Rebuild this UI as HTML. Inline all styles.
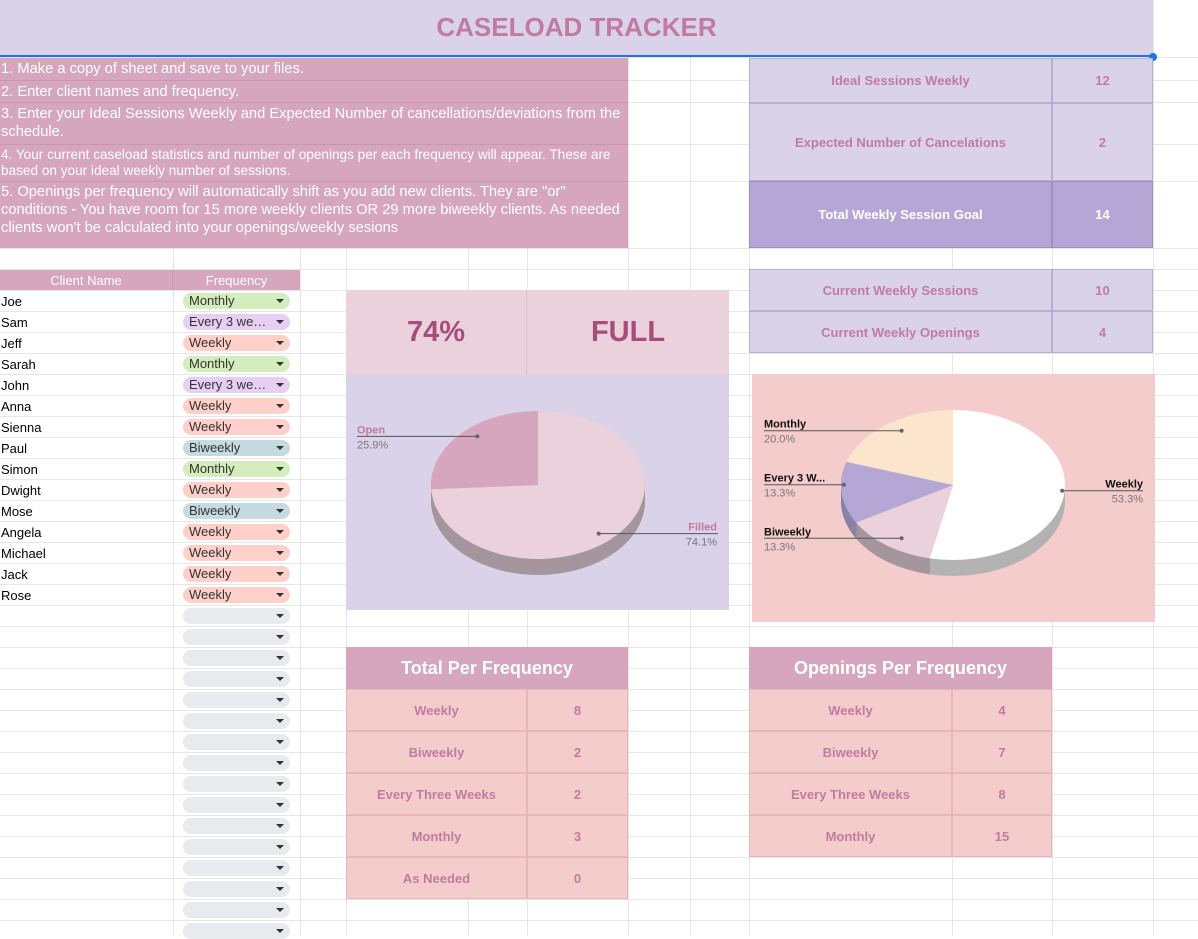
<!DOCTYPE html>
<html><head><meta charset="utf-8"><style>
*{box-sizing:border-box;margin:0;padding:0}
body{width:1198px;height:936px;overflow:hidden;background:#fff;font-family:"Liberation Sans",Arial,sans-serif;position:relative}
.a{position:absolute}
.c{position:absolute;display:flex;align-items:center;justify-content:center;text-align:center}
.b{font-weight:bold}
.chip{position:absolute;left:183px;width:107px;height:16px;border-radius:8px;font-size:13px;color:#333;padding-left:6px;line-height:16px;white-space:nowrap;overflow:hidden}
.chip:after{content:"";position:absolute;right:6px;top:6px;border-left:4px solid transparent;border-right:4px solid transparent;border-top:4px solid #333}
.chip span{display:inline-block;max-width:80px;overflow:hidden;text-overflow:ellipsis}
.nm{position:absolute;left:1px;font-size:13px;color:#000;line-height:21px}
</style></head><body>
<svg class="a" style="left:0;top:0" width="1198" height="936" id="grid"></svg>

<div class="c b" style="left:0;top:0;width:1153px;height:57px;background:#d9d2e9;color:#c27ba0;font-size:26px;border-bottom:2px solid #1a73e8">CASELOAD TRACKER</div>
<div class="a" style="left:1149px;top:53px;width:8px;height:8px;border-radius:4px;background:#1a73e8"></div>

<div class="a" style="left:0;top:58px;width:628px;height:190px;background:#d5a6bd;color:#fff;font-size:14.7px;line-height:18px">
<div class="a" style="left:1px;top:2px">1. Make a copy of sheet and save to your files.</div>
<div class="a" style="left:0;top:22px;width:628px;border-top:1px solid #c997b0"></div>
<div class="a" style="left:1px;top:25px">2. Enter client names and frequency.</div>
<div class="a" style="left:0;top:44px;width:628px;border-top:1px solid #c997b0"></div>
<div class="a" style="left:1px;top:47px;width:626px">3. Enter your Ideal Sessions Weekly and Expected Number of cancellations/deviations from the schedule.</div>
<div class="a" style="left:0;top:86px;width:628px;border-top:1px solid #c997b0"></div>
<div class="a" style="left:1px;top:89px;width:626px;font-size:13.6px;line-height:16px">4. Your current caseload statistics and number of openings per each frequency will appear. These are based on your ideal weekly number of sessions.</div>
<div class="a" style="left:0;top:123px;width:628px;border-top:1px solid #c997b0"></div>
<div class="a" style="left:1px;top:125px;width:626px">5. Openings per frequency will automatically shift as you add new clients. They are "or" conditions - You have room for 15 more weekly clients OR 29 more biweekly clients. As needed clients won't be calculated into your openings/weekly sesions</div>
</div>

<div>
<div class="c b" style="left:749px;top:58px;width:303px;height:45px;background:#d9d2e9;color:#c27ba0;font-size:13px;border:1px solid #b8aed0">Ideal Sessions Weekly</div>
<div class="c b" style="left:1052px;top:58px;width:101px;height:45px;background:#d9d2e9;color:#c27ba0;font-size:13px;border:1px solid #b8aed0">12</div>
<div class="c b" style="left:749px;top:103px;width:303px;height:78px;background:#d9d2e9;color:#c27ba0;font-size:13px;border:1px solid #b8aed0">Expected Number of Cancelations</div>
<div class="c b" style="left:1052px;top:103px;width:101px;height:78px;background:#d9d2e9;color:#c27ba0;font-size:13px;border:1px solid #b8aed0">2</div>
<div class="c b" style="left:749px;top:181px;width:303px;height:67px;background:#b4a7d6;color:#fff;font-size:13px;border:1px solid #9d90c0">Total Weekly Session Goal</div>
<div class="c b" style="left:1052px;top:181px;width:101px;height:67px;background:#b4a7d6;color:#fff;font-size:13px;border:1px solid #9d90c0">14</div>
<div class="c b" style="left:749px;top:269px;width:303px;height:42px;background:#d9d2e9;color:#c27ba0;font-size:13px;border:1px solid #b8aed0">Current Weekly Sessions</div>
<div class="c b" style="left:1052px;top:269px;width:101px;height:42px;background:#d9d2e9;color:#c27ba0;font-size:13px;border:1px solid #b8aed0">10</div>
<div class="c b" style="left:749px;top:311px;width:303px;height:42px;background:#d9d2e9;color:#c27ba0;font-size:13px;border:1px solid #b8aed0">Current Weekly Openings</div>
<div class="c b" style="left:1052px;top:311px;width:101px;height:42px;background:#d9d2e9;color:#c27ba0;font-size:13px;border:1px solid #b8aed0">4</div>
</div>

<div class="c" style="left:0;top:270px;width:173px;height:20px;background:#d5a6bd;color:#fff;font-size:13px;border-right:1px solid #c997b0">Client Name</div>
<div class="c" style="left:173px;top:270px;width:127px;height:20px;background:#d5a6bd;color:#fff;font-size:13px">Frequency</div>
<div id="clients"></div>

<div class="c b" style="left:346px;top:290px;width:181px;height:84px;background:#ead1dc;color:#a64d79;font-size:29px;border-right:1px solid #dcc0cc">74%</div>
<div class="c b" style="left:527px;top:290px;width:202px;height:84px;background:#ead1dc;color:#a64d79;font-size:29px">FULL</div>

<svg class="a" style="left:346px;top:374px" width="383" height="236" id="pie1"><rect width="383" height="236" fill="#d9d2e9"/></svg>
<svg class="a" style="left:752px;top:374px" width="403" height="248" id="pie2"><rect width="403" height="248" fill="#f4cccc"/></svg>

<div id="tables"></div>

<script>
const clientNames=["Joe","Sam","Jeff","Sarah","John","Anna","Sienna","Paul","Simon","Dwight","Mose","Angela","Michael","Jack","Rose"];
const clientFreqs=["Monthly","Every 3 weeks","Weekly","Monthly","Every 3 weeks","Weekly","Weekly","Biweekly","Monthly","Weekly","Biweekly","Weekly","Weekly","Weekly","Weekly"];
const pie1Labels=["Filled","Open"];
const pie1Values=[74.1,25.9];
const pie2Labels=["Weekly","Biweekly","Every 3 W...","Monthly"];
const pie2Values=[53.3,13.3,13.3,20.0];
const totalLabels=["Weekly","Biweekly","Every Three Weeks","Monthly","As Needed"];
const totalValues=[8,2,2,3,0];
const openLabels=["Weekly","Biweekly","Every Three Weeks","Monthly"];
const openValues=[4,7,8,15];

const NS="http://www.w3.org/2000/svg";
const g=document.getElementById('grid');
const cols=[173,300,346,468,527,628,690,749,952,1052,1153];
cols.forEach(x=>{const l=document.createElementNS(NS,'line');


l.setAttribute('x1',x+.5);l.setAttribute('x2',x+.5);l.setAttribute('y1',0);l.setAttribute('y2',936);l.setAttribute('stroke','#e6e6e6');g.appendChild(l);});
const rows=[57,80,102,144,181,248];for(let y=269;y<936;y+=21)rows.push(y);
rows.forEach(y=>{const l=document.createElementNS(NS,'line');


l.setAttribute('x1',0);l.setAttribute('x2',1198);l.setAttribute('y1',y+.5);l.setAttribute('y2',y+.5);l.setAttribute('stroke','#e6e6e6');g.appendChild(l);});

const chipColor={"Monthly":"#d4edbc","Every 3 weeks":"#e6cff2","Weekly":"#ffcfc9","Biweekly":"#c6dbe1","":"#e8eaed"};
const cl=document.getElementById('clients');
for(let i=0;i<31;i++){
  const top=291+i*21;
  const f=clientFreqs[i]||"";
  if(clientNames[i]){const n=document.createElement('div');n.className='nm';n.style.top=top+'px';n.textContent=clientNames[i];
  
  
  cl.appendChild(n);}
  const c=document.createElement('div');c.className='chip';c.style.top=(top+2)+'px';c.style.background=chipColor[f];
  c.innerHTML='<span>'+(f==="Every 3 weeks"?"Every 3 we…":f)+'</span>';
  
  
  cl.appendChild(c);
}

function pie(svg,cx,cy,rx,ry,d,vals,tops,sides,labels,lblDefs){
  const tot=vals.reduce((a,b)=>a+b,0);
  const pt=(a,oy)=>[cx+rx*Math.sin(a),cy+oy-ry*Math.cos(a)];
  const path=(a0,a1,oy)=>{const p0=pt(a0,oy),p1=pt(a1,oy);const lg=(a1-a0)>Math.PI?1:0;
    return `M${cx},${cy+oy}L${p0[0]},${p0[1]}A${rx},${ry} 0 ${lg} 1 ${p1[0]},${p1[1]}Z`;};
  let angs=[],a=0;vals.forEach(v=>{const b=a+v/tot*2*Math.PI;angs.push([a,b]);a=b;});
  for(let oy=d;oy>0;oy--){angs.forEach((ab,i)=>{const p=document.createElementNS(NS,'path');
    
    
    p.setAttribute('d',path(ab[0],ab[1],oy));p.setAttribute('fill',sides[i]);svg.appendChild(p);});}
  angs.forEach((ab,i)=>{const p=document.createElementNS(NS,'path');
    
    
    p.setAttribute('d',path(ab[0],ab[1],0));p.setAttribute('fill',tops[i]);svg.appendChild(p);});
  angs.forEach((ab,i)=>{const L=lblDefs[i];const m=(ab[0]+ab[1])/2;const r=L.r||0.78;
    const q=[cx+rx*r*Math.sin(m),cy-ry*r*Math.cos(m)+(L.dy||0)];
    const y=q[1];
    const ln=document.createElementNS(NS,'line');
    
    
    ln.setAttribute('x1',L.x1);ln.setAttribute('x2',q[0]);ln.setAttribute('y1',y);ln.setAttribute('y2',y);ln.setAttribute('stroke','#555');svg.appendChild(ln);
    const dot=document.createElementNS(NS,'circle');
    
    
    dot.setAttribute('cx',q[0]);dot.setAttribute('cy',y);dot.setAttribute('r',2);dot.setAttribute('fill','#666');svg.appendChild(dot);
    const t1=document.createElementNS(NS,'text');
    
    
    t1.setAttribute('x',L.tx);t1.setAttribute('y',y-3);t1.setAttribute('text-anchor',L.anchor);t1.setAttribute('font-size','11');t1.setAttribute('font-weight','bold');t1.setAttribute('fill',L.color);t1.setAttribute('font-family','Liberation Sans, sans-serif');t1.textContent=labels[i];svg.appendChild(t1);
    const t2=document.createElementNS(NS,'text');
    
    
    t2.setAttribute('x',L.tx);t2.setAttribute('y',y+12);t2.setAttribute('text-anchor',L.anchor);t2.setAttribute('font-size','11');t2.setAttribute('fill','#777');t2.setAttribute('font-family','Liberation Sans, sans-serif');t2.textContent=vals[i].toFixed(1)+'%';svg.appendChild(t2);
  });
}
pie(document.getElementById('pie1'),192,111,107,74,16,pie1Values,["#ead1dc","#d5a6bd"],["#a4969c","#a4969c"],pie1Labels,
  [{x1:372,tx:371,anchor:'end',color:'#c27ba0',dy:9},{x1:11,tx:11,anchor:'start',color:'#c27ba0',dy:-9}]);
pie(document.getElementById('pie2'),201,111,112,75,16,pie2Values,["#ffffff","#ead1dc","#b4a7d6","#fce5cd"],["#b3b3b3","#a4969c","#8a80a8","#b8a890"],pie2Labels,
  [{x1:391,tx:391,anchor:'end',color:'#111',r:0.98,dy:-2},{x1:12,tx:12,anchor:'start',color:'#111',dy:6},{x1:12,tx:12,anchor:'start',color:'#111',r:0.98,dy:-8},{x1:12,tx:12,anchor:'start',color:'#111',dy:-7}]);

function table(x,w1,w2,title,labels,vals,name){
  const t=document.getElementById('tables');
  const h=document.createElement('div');h.className='c b';
  
  
  h.style.cssText=`left:${x}px;top:647px;width:${w1+w2}px;height:42px;background:#d5a6bd;color:#fff;font-size:18px`;h.textContent=title;t.appendChild(h);
  labels.forEach((l,i)=>{const top=689+i*42;
    const a=document.createElement('div');a.className='c b';
    
    
    a.style.cssText=`left:${x}px;top:${top}px;width:${w1}px;height:42px;background:#f4cccc;color:#c27ba0;font-size:13px;border:1px solid #e6b8b8`;a.textContent=l;t.appendChild(a);
    const b=document.createElement('div');b.className='c b';
    
    
    b.style.cssText=`left:${x+w1}px;top:${top}px;width:${w2}px;height:42px;background:#f4cccc;color:#c27ba0;font-size:13px;border:1px solid #e6b8b8`;b.textContent=vals[i];t.appendChild(b);});
}
table(346,181,101,"Total Per Frequency",totalLabels,totalValues,'total-per-frequency');
table(749,203,100,"Openings Per Frequency",openLabels,openValues,'openings-per-frequency');
</script>
</body></html>
